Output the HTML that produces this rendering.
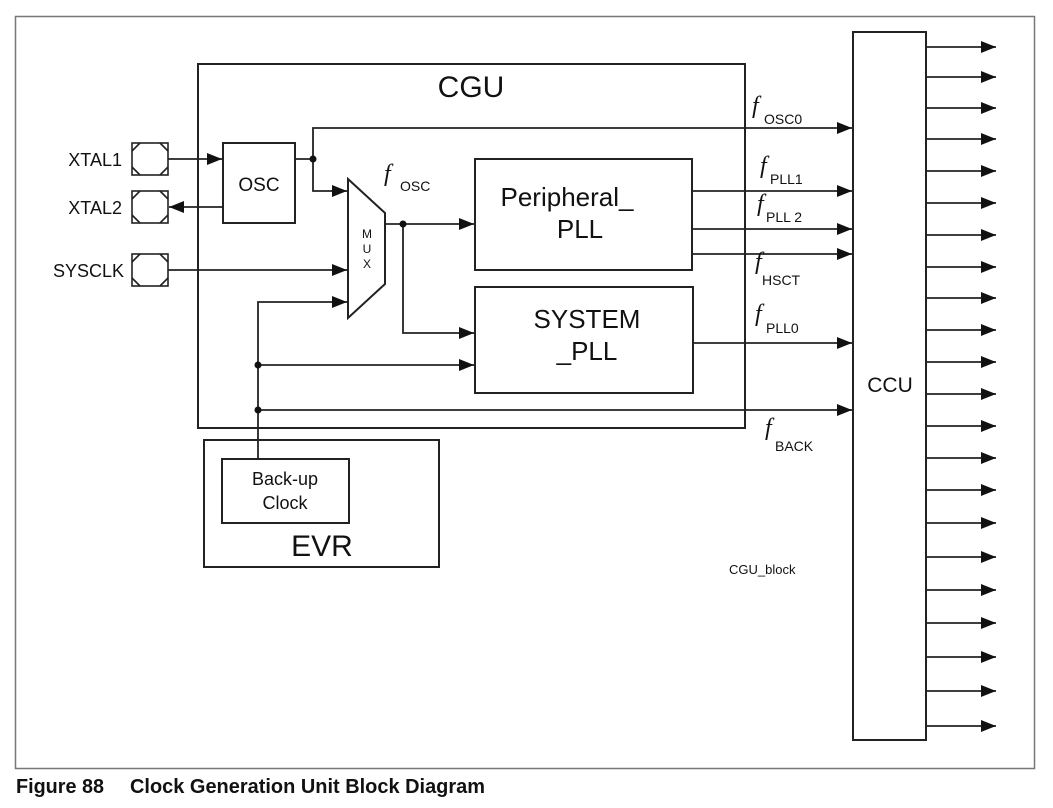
<!DOCTYPE html>
<html><head><meta charset="utf-8"><style>
html,body{margin:0;padding:0;background:#fff;}
svg{display:block;}
text{font-family:"Liberation Sans",Arial,sans-serif;fill:#111;}
.f{font-family:"Liberation Serif",serif;font-style:italic;font-size:24px;}
.s{font-size:14px;}
</style></head><body>
<svg width="1053" height="808" viewBox="0 0 1053 808" xmlns="http://www.w3.org/2000/svg">
<defs>
<marker id="a" markerWidth="16" markerHeight="12" refX="15" refY="6" orient="auto" markerUnits="userSpaceOnUse"><path d="M0,0 L15,6 L0,12 Z" fill="#111"/></marker>
</defs>
<g fill="none" stroke="#222" stroke-width="2">
<rect x="15.5" y="16.5" width="1019" height="752" stroke="#777" stroke-width="1.5"/>
<rect x="198" y="64" width="547" height="364"/>
<rect x="223" y="143" width="72" height="80"/>
<rect x="475" y="159" width="217" height="111"/>
<rect x="475" y="287" width="218" height="106"/>
<rect x="853" y="32" width="73" height="708"/>
<rect x="204" y="440" width="235" height="127"/>
<rect x="222" y="459" width="127" height="64"/>
<path d="M348,179 L385,213 L385,284 L348,318 Z"/>
</g>
<g fill="none" stroke="#222" stroke-width="1.6">
<rect x="132" y="143" width="36" height="32"/><path d="M140,143 L132,151 M160,143 L168,151 M132,167 L140,175 M168,167 L160,175"/>
<rect x="132" y="191" width="36" height="32"/><path d="M140,191 L132,199 M160,191 L168,199 M132,215 L140,223 M168,215 L160,223"/>
<rect x="132" y="254" width="36" height="32"/><path d="M140,254 L132,262 M160,254 L168,262 M132,278 L140,286 M168,278 L160,286"/>
</g>
<g fill="none" stroke="#222" stroke-width="1.8" marker-end="url(#a)">
<path d="M168,159 H222"/>
<path d="M223,207 H169"/>
<path d="M295,159 H313 V128 H852"/>
<path d="M313,159 V191 H347"/>
<path d="M168,270 H347"/>
<path d="M258,459 V302 H347"/>
<path d="M385,224 H474"/>
<path d="M403,224 V333 H474"/>
<path d="M258,365 H474"/>
<path d="M258,410 H852"/>
<path d="M692,191 H852"/>
<path d="M692,229 H852"/>
<path d="M692,254 H852"/>
<path d="M693,343 H852"/>
</g>
<g fill="none" stroke="#222" stroke-width="1.8" marker-end="url(#a)">
<path d="M926,47H996"/><path d="M926,77H996"/><path d="M926,108H996"/><path d="M926,139H996"/><path d="M926,171H996"/><path d="M926,203H996"/><path d="M926,235H996"/><path d="M926,267H996"/><path d="M926,298H996"/><path d="M926,330H996"/><path d="M926,362H996"/><path d="M926,394H996"/><path d="M926,426H996"/><path d="M926,458H996"/><path d="M926,490H996"/><path d="M926,523H996"/><path d="M926,557H996"/><path d="M926,590H996"/><path d="M926,623H996"/><path d="M926,657H996"/><path d="M926,691H996"/><path d="M926,726H996"/>
</g>
<g fill="#111"><circle cx="313" cy="159" r="3.5"/><circle cx="403" cy="224" r="3.5"/><circle cx="258" cy="365" r="3.5"/><circle cx="258" cy="410" r="3.5"/></g>
<text x="471" y="97" font-size="30" text-anchor="middle">CGU</text>
<text x="259" y="191" font-size="19" text-anchor="middle">OSC</text>
<text x="122" y="166" font-size="18" text-anchor="end">XTAL1</text>
<text x="122" y="214" font-size="18" text-anchor="end">XTAL2</text>
<text x="124" y="277" font-size="18" text-anchor="end">SYSCLK</text>
<text x="567" y="206" font-size="26" text-anchor="middle">Peripheral_</text>
<text x="580" y="238" font-size="26" text-anchor="middle">PLL</text>
<text x="587" y="328" font-size="26" text-anchor="middle">SYSTEM</text>
<text x="587" y="360" font-size="26" text-anchor="middle">_PLL</text>
<text x="890" y="392" font-size="21" text-anchor="middle">CCU</text>
<text x="285" y="485" font-size="18" text-anchor="middle">Back-up</text>
<text x="285" y="509" font-size="18" text-anchor="middle">Clock</text>
<text x="322" y="556" font-size="30" text-anchor="middle">EVR</text>
<text x="367" y="238" font-size="12" text-anchor="middle">M</text>
<text x="367" y="253" font-size="12" text-anchor="middle">U</text>
<text x="367" y="268" font-size="12" text-anchor="middle">X</text>
<text x="729" y="574" font-size="13">CGU_block</text>
<text class="f" x="384" y="181">f</text><text class="s" x="400" y="191">OSC</text>
<text class="f" x="752" y="113">f</text><text class="s" x="764" y="124">OSC0</text>
<text class="f" x="760" y="173">f</text><text class="s" x="770" y="184">PLL1</text>
<text class="f" x="757" y="211">f</text><text class="s" x="766" y="222">PLL 2</text>
<text class="f" x="755" y="269">f</text><text class="s" x="762" y="285">HSCT</text>
<text class="f" x="755" y="321">f</text><text class="s" x="766" y="333">PLL0</text>
<text class="f" x="765" y="435">f</text><text class="s" x="775" y="451">BACK</text>
<text x="16" y="793" font-size="20" font-weight="bold" font-family="'Liberation Sans Narrow','Liberation Sans',sans-serif" textLength="88" lengthAdjust="spacingAndGlyphs">Figure 88</text>
<text x="130" y="793" font-size="20" font-weight="bold" font-family="'Liberation Sans Narrow','Liberation Sans',sans-serif" textLength="355" lengthAdjust="spacingAndGlyphs">Clock Generation Unit Block Diagram</text>
</svg>
</body></html>
